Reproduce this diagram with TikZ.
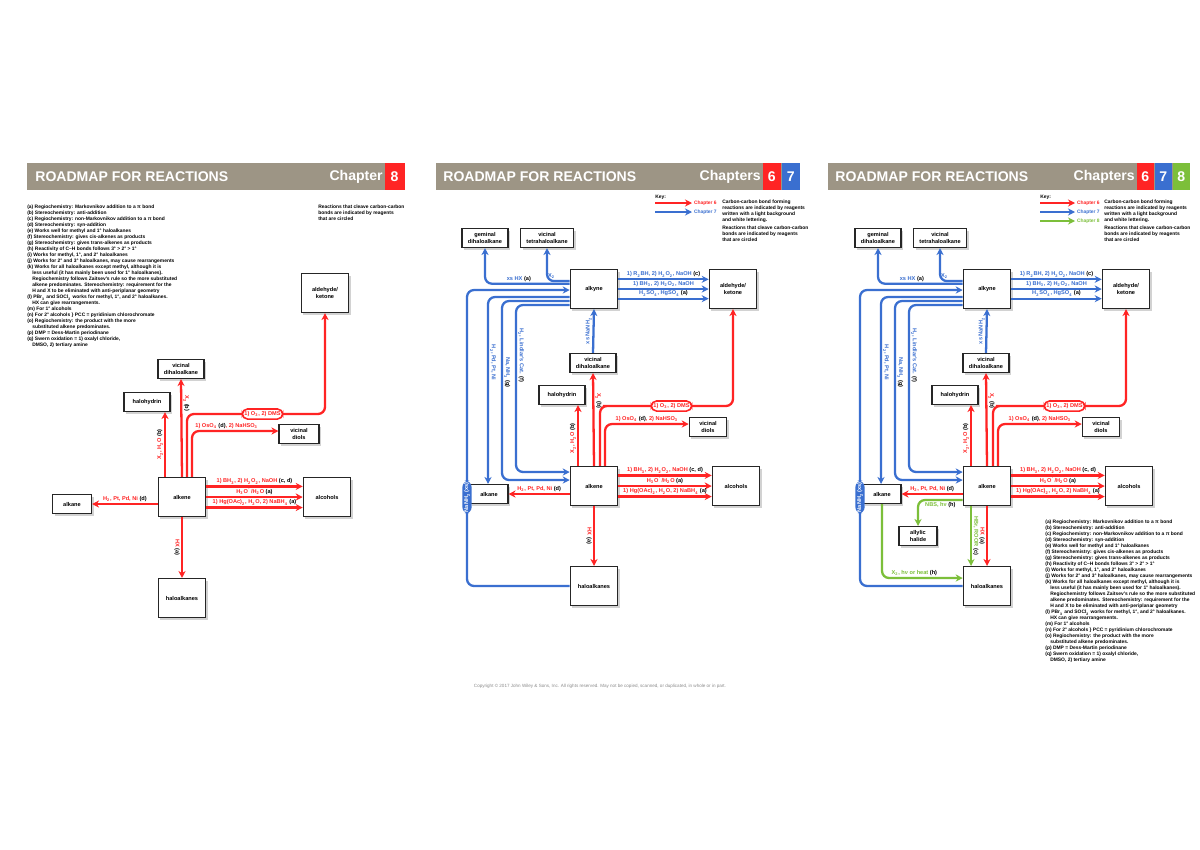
\documentclass[tikz,border=0pt]{standalone}
\usepackage{fontspec}
\setmainfont{Liberation Sans}
\usetikzlibrary{arrows.meta,shadows}
\definecolor{rr}{HTML}{FF2424}
\definecolor{bb}{HTML}{3A6FD0}
\definecolor{gg}{HTML}{7CBF3A}
\definecolor{hd}{HTML}{9D9585}
\newcommand\lf{\fontsize{3.2}{3.7}\selectfont\bfseries}
\newcommand\sbs[1]{\textsubscript{#1}}
\newcommand\sps[1]{\textsuperscript{#1}}
\tikzset{
 box/.style={draw=black!85,line width=0.6pt,fill=white,drop shadow={shadow xshift=1.2pt,shadow yshift=-1.2pt,opacity=0.35},font=\lf,align=center,inner sep=1pt},
 big/.style={box,minimum width=0.95cm,minimum height=0.78cm},
 sm/.style={box,minimum width=0.92cm,minimum height=0.38cm},
 ar/.style={line width=1.3pt,-{Stealth[length=4pt,width=4pt]},rounded corners=4pt},
 R/.style={ar,rr}, B/.style={ar,bb}, G/.style={ar,gg},
 lab/.style={font=\lf,inner sep=0.6pt},
 rl/.style={lab,text=rr}, bl/.style={lab,text=bb}, gl/.style={lab,text=gg},
 oval/.style={lab,text=rr,draw=rr,line width=0.9pt,fill=white,rounded corners=3pt,inner sep=1.2pt},
 hdr/.style={fill=hd,minimum height=0.54cm,anchor=north west,inner sep=0pt},
 ht/.style={font=\fontsize{8}{8}\selectfont\bfseries,text=white,inner sep=0pt},
 note/.style={font=\fontsize{2.8}{3.4}\selectfont\bfseries,align=left,anchor=north west,inner sep=0pt},
 keyl/.style={font=\fontsize{2.8}{3.4}\selectfont\bfseries,inner sep=0.5pt,right}
}
\newcommand\rmpanel[1]{%
 \node[big] (yne#1) at (594,289) {alkyne};
 \node[big] (ald#1) at (733,289) {aldehyde/\\ketone};
 \node[sm] (gem#1) at (485,238) {geminal\\dihaloalkane};
 \node[sm,minimum width=1.06cm] (tet#1) at (547,238) {vicinal\\tetrahaloalkane};
 \node[sm] (vdh#1) at (593,363) {vicinal\\dihaloalkane};
 \node[sm] (hh#1) at (562,395) {halohydrin};
 \node[sm,minimum width=0.75cm] (vd#1) at (708,427) {vicinal\\diols};
 \node[big] (ene#1) at (594,486) {alkene};
 \node[sm,minimum width=0.76cm] (ane#1) at (489,494) {alkane};
 \node[big] (ol#1) at (736,486) {alcohols};
 \node[big] (ah#1) at (594,586) {haloalkanes};
 \draw[B] ([yshift=3pt]yne#1.west) -| node[bl,pos=0.3,above]{xs HX \textcolor{black}{(a)}} (gem#1.south);
 \draw[B] ([yshift=4.5pt]yne#1.west) -| node[bl,pos=0.4,above]{X\sbs{2}} (tet#1.south);
 \draw[B] ([yshift=5.5pt]yne#1.east) -- node[bl,above]{1) R\sbs{2}BH, 2) H\sbs{2}O\sbs{2}, NaOH \textcolor{black}{(c)}} ([yshift=5.5pt]ald#1.west);
 \draw[B] (yne#1.east) -- node[bl,above]{1) BH\sbs{3}, 2) H\sbs{2}O\sbs{2}, NaOH} (ald#1.west);
 \draw[B] ([yshift=-5.5pt]yne#1.east) -- node[bl,above]{H\sbs{2}SO\sbs{4}, HgSO\sbs{4} \textcolor{black}{(a)}} ([yshift=-5.5pt]ald#1.west);
 \draw[B] (ah#1.west) -- (467,586) -- node[pos=0.3,sloped,fill=bb,text=white,font=\lf,inner sep=1pt]{NaNH\sbs{2} (xs)} (467,290) -- (yne#1.west|-0,290);
 \draw[B] (yne#1.west|-0,297) -- (488,297) -- node[bl,pos=0.35,sloped,above]{H\sbs{2}, Pd, Pt, Ni} (ane#1.north-|488,0);
 \draw[B] (yne#1.west|-0,301) -- (502,301) -- node[bl,pos=0.4,sloped,above]{Na, NH\sbs{3} \textcolor{black}{(g)}} (502,480) -- (ene#1.west|-0,480);
 \draw[B] (yne#1.west|-0,305) -- (516,305) -- node[bl,pos=0.3,sloped,above]{H\sbs{2}, Lindlar's Cat. \textcolor{black}{(f)}} (516,472) -- (ene#1.west|-0,472);
 \draw[B] (vdh#1.north) -- node[bl,sloped,above]{xs NaNH\sbs{2}} (yne#1.south);
 \draw[R] (ene#1.north-|578,0) -- node[rl,sloped,above,pos=0.45]{X\sbs{2}, H\sbs{2}O \textcolor{black}{(b)}} (hh#1.south-|578,0);
 \draw[R] (ene#1.north) -- node[rl,sloped,above,pos=0.7]{X\sbs{2} \textcolor{black}{(b)}} (vdh#1.south);
 \draw[R] (ene#1.north-|600,0) |- (610,406) -- node[oval]{1) O\sbs{3}, 2) DMS} (733,406) -- (ald#1.south);
 \draw[R] (ene#1.north-|605,0) |- node[rl,pos=0.75,above]{1) OsO\sbs{4} \textcolor{black}{(d)}, 2) NaHSO\sbs{3}} (vd#1.west|-0,424);
 \draw[R] ([yshift=6pt]ene#1.east) -- node[rl,above]{1) BH\sbs{3}, 2) H\sbs{2}O\sbs{2}, NaOH \textcolor{black}{(c, d)}} ([yshift=6pt]ol#1.west);
 \draw[R] (ene#1.east) -- node[rl,above]{H\sbs{3}O\sps{+}/H\sbs{2}O \textcolor{black}{(a)}} (ol#1.west);
 \draw[R] ([yshift=-6pt]ene#1.east) -- node[rl,above]{1) Hg(OAc)\sbs{2}, H\sbs{2}O, 2) NaBH\sbs{4} \textcolor{black}{(a)}} ([yshift=-6pt]ol#1.west);
 \draw[R] (ene#1.west|-0,494) -- node[rl,above]{H\sbs{2}, Pt, Pd, Ni \textcolor{black}{(d)}} (ane#1.east);
 \draw[R] (ene#1.south) -- node[rl,sloped,below]{HX \textcolor{black}{(a)}} (ah#1.north);
}
\newcommand\notelist{(a) Regiochemistry: Markovnikov addition to a π bond\\(b) Stereochemistry: anti-addition\\(c) Regiochemistry: non-Markovnikov addition to a π bond\\(d) Stereochemistry: syn-addition\\(e) Works well for methyl and 1° haloalkanes\\(f) Stereochemistry: gives cis-alkenes as products\\(g) Stereochemistry: gives trans-alkenes as products\\(h) Reactivity of C--H bonds follows 3° > 2° > 1°\\(i) Works for methyl, 1°, and 2° haloalkanes\\(j) Works for 2° and 3° haloalkanes, may cause rearrangements\\(k) Works for all haloalkanes except methyl, although it is\\\quad less useful (it has mainly been used for 1° haloalkanes).\\\quad Regiochemistry follows Zaitsev's rule so the more substituted\\\quad alkene predominates. Stereochemistry: requirement for the\\\quad H and X to be eliminated with anti-periplanar geometry\\(l) PBr\sbs{3} and SOCl\sbs{2} works for methyl, 1°, and 2° haloalkanes.\\\quad HX can give rearrangements.\\(m) For 1° alcohols\\(n) For 2° alcohols \} PCC = pyridinium chlorochromate\\(o) Regiochemistry: the product with the more\\\quad substituted alkene predominates.\\(p) DMP = Dess-Martin periodinane\\(q) Swern oxidation = 1) oxalyl chloride,\\\quad DMSO, 2) tertiary amine}
\begin{document}
\begin{tikzpicture}[x=0.02cm,y=-0.02cm]
\useasboundingbox (0,0) rectangle (1200,849);
\fill[white] (0,0) rectangle (1200,849);
% ===== Panel 1 =====
\node[hdr,minimum width=7.56cm] (h1) at (27,163) {};
\node[ht,anchor=west] at (35,176.5) {ROADMAP FOR REACTIONS};
\node[fill=rr,ht,minimum width=0.4cm,minimum height=0.54cm,anchor=north east] (c1) at (405,163) {8};
\node[ht,anchor=east] at (383,176.5) {Chapter};
\node[note] at (27,205) {\notelist};
\node[note] at (318,205) {Reactions that cleave carbon-carbon\\bonds are indicated by reagents\\that are circled};
\node[big] (ald1) at (325,293) {aldehyde/\\ketone};
\node[sm] (vdh1) at (181,369) {vicinal\\dihaloalkane};
\node[sm] (hh1) at (147,402) {halohydrin};
\node[sm,minimum width=0.8cm] (vd1) at (299,434) {vicinal\\diols};
\node[big] (ene1) at (182,497) {alkene};
\node[sm,minimum width=0.78cm] (ane1) at (72,504) {alkane};
\node[big] (ol1) at (327,497) {alcohols};
\node[big] (ah1) at (182,598) {haloalkanes};
\draw[R] (ene1.north-|165,0) -- node[rl,sloped,above]{X\sbs{2}, H\sbs{2}O \textcolor{black}{(b)}} (hh1.south-|165,0);
\draw[R] (ene1.north) -- node[rl,sloped,above,pos=0.75]{X\sbs{2} \textcolor{black}{(b)}} (vdh1.south);
\draw[R] (ene1.north-|187,0) |- (200,414) -- node[oval]{1) O\sbs{3}, 2) DMS} (325,414) -- (ald1.south);
\draw[R] (ene1.north-|192,0) |- node[rl,pos=0.7,above]{1) OsO\sbs{4} \textcolor{black}{(d)}, 2) NaHSO\sbs{3}} (vd1.west|-0,431);
\draw[R] ([yshift=6pt]ene1.east) -- node[rl,above]{1) BH\sbs{3}, 2) H\sbs{2}O\sbs{2}, NaOH \textcolor{black}{(c, d)}} ([yshift=6pt]ol1.west);
\draw[R] (ene1.east) -- node[rl,above]{H\sbs{3}O\sps{+}/H\sbs{2}O \textcolor{black}{(a)}} (ol1.west);
\draw[R] ([yshift=-6pt]ene1.east) -- node[rl,above]{1) Hg(OAc)\sbs{2}, H\sbs{2}O, 2) NaBH\sbs{4} \textcolor{black}{(a)}} ([yshift=-6pt]ol1.west);
\draw[R] (ene1.west|-0,504) -- node[rl,above]{H\sbs{2}, Pt, Pd, Ni \textcolor{black}{(d)}} (ane1.east);
\draw[R] (ene1.south) -- node[rl,sloped,below]{HX \textcolor{black}{(a)}} (ah1.north);
% ===== Panel 2 =====
\node[hdr,minimum width=7.28cm] (h2) at (436,163) {};
\node[ht,anchor=west] at (443,176.5) {ROADMAP FOR REACTIONS};
\node[fill=bb,ht,minimum width=0.36cm,minimum height=0.54cm,anchor=north east] (c27) at (800,163) {7};
\node[fill=rr,ht,minimum width=0.36cm,minimum height=0.54cm,anchor=north east] (c26) at (781,163) {6};
\node[ht,anchor=east] at (761,176.5) {Chapters};
\node[note] (k2) at (655,195) {Key:};
\coordinate (k2a) at (655,203); \coordinate (k2b) at (692,203);
\coordinate (k2c) at (655,212); \coordinate (k2d) at (692,212);
\draw[R] (k2a) -- (k2b) node[keyl]{Chapter 6};
\draw[B] (k2c) -- (k2d) node[keyl]{Chapter 7};
\node[note] at (722,200) {Carbon-carbon bond forming\\reactions are indicated by reagents\\written with a light background\\and white lettering.\\[1pt]Reactions that cleave carbon-carbon\\bonds are indicated by reagents\\that are circled};
\rmpanel{2}
\node[font=\fontsize{2.6}{3}\selectfont,text=black!45] at (600,686) {Copyright © 2017 John Wiley \& Sons, Inc. All rights reserved. May not be copied, scanned, or duplicated, in whole or in part.};
% ===== Panel 3 =====
\node[hdr,minimum width=7.24cm] (h3) at (828,163) {};
\node[ht,anchor=west] at (835,176.5) {ROADMAP FOR REACTIONS};
\node[fill=gg,ht,minimum width=0.34cm,minimum height=0.54cm,anchor=north east] (c38) at (1190,163) {8};
\node[fill=bb,ht,minimum width=0.34cm,minimum height=0.54cm,anchor=north east] (c37) at (1172,163) {7};
\node[fill=rr,ht,minimum width=0.34cm,minimum height=0.54cm,anchor=north east] (c36) at (1154,163) {6};
\node[ht,anchor=east] at (1135,176.5) {Chapters};
\node[note] at (1040,195) {Key:};
\coordinate (k3a) at (1040,203); \coordinate (k3b) at (1075,203);
\coordinate (k3c) at (1040,212); \coordinate (k3d) at (1075,212);
\coordinate (k3e) at (1040,221); \coordinate (k3f) at (1075,221);
\draw[R] (k3a) -- (k3b) node[keyl]{Chapter 6};
\draw[B] (k3c) -- (k3d) node[keyl]{Chapter 7};
\draw[G] (k3e) -- (k3f) node[keyl]{Chapter 8};
\node[note] at (1104,200) {Carbon-carbon bond forming\\reactions are indicated by reagents\\written with a light background\\and white lettering.\\[1pt]Reactions that cleave carbon-carbon\\bonds are indicated by reagents\\that are circled};
\begin{scope}[shift={(393,0)}]
\rmpanel{3}
\node[sm,minimum width=0.76cm] (all3) at (525,536) {allylic\\halide};
\draw[G] (ene3.west|-0,500) -| node[gl,pos=0.25,below]{NBS, hν \textcolor{black}{(h)}} (all3.north);
\draw[G] (ane3.south) |- node[gl,pos=0.7,above]{X\sbs{2}, hν or heat \textcolor{black}{(h)}} (ah3.west|-0,578);
\draw[G] (ene3.south-|578,0) -- node[gl,sloped,above]{HBr, ROOR \textcolor{black}{(c)}} (ah3.north-|578,0);
\end{scope}
\node[note] at (1045,520) {\notelist};
\end{tikzpicture}
\end{document}
